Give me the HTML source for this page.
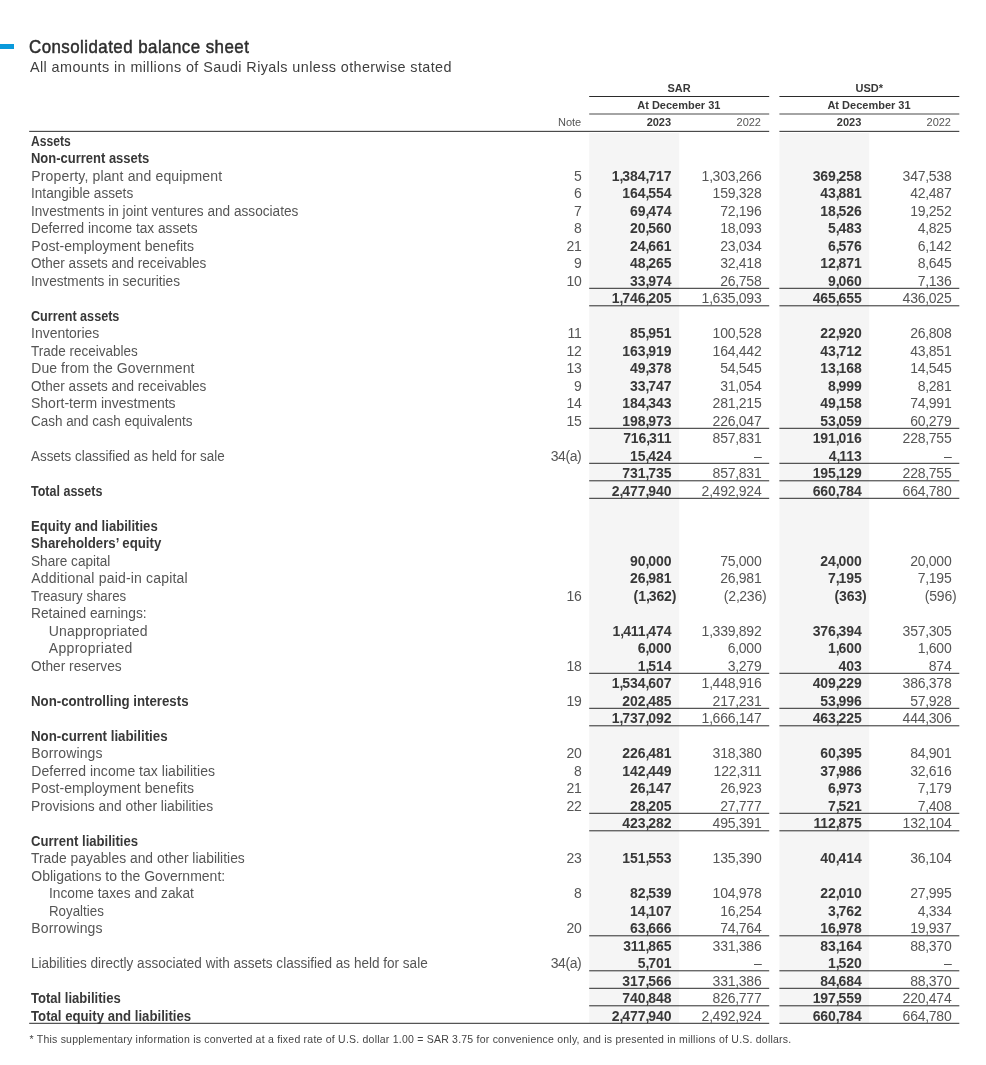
<!DOCTYPE html>
<html lang="en"><head><meta charset="utf-8"><title>Consolidated balance sheet</title>
<style>
html,body{margin:0;padding:0;background:#fff}
body{width:986px;height:1065px;position:relative;overflow:hidden;font-family:"Liberation Sans", Arial, sans-serif;color:#555}
.t{position:absolute;white-space:nowrap;line-height:normal}
.l{font-size:14px;color:#555}
.b{font-weight:700;color:#383838}
.n{font-size:14px;text-align:right}
.h{font-size:11px}
.n{letter-spacing:-0.2px}
.n.b{letter-spacing:-0.08px}
.n i{font-style:normal;letter-spacing:-0.5px}
.n.b i{letter-spacing:-1.1px}
svg{position:absolute;left:0;top:0}
</style></head><body>
<svg width="986" height="1065" viewBox="0 0 986 1065">
<rect x="589.2" y="133.0" width="90" height="890.3" fill="#f5f5f5"/>
<rect x="779.4" y="133.0" width="89.8" height="890.3" fill="#f5f5f5"/>
<line x1="589.2" x2="769.2" y1="96.50" y2="96.50" stroke="#2b2b2b" stroke-width="1"/>
<line x1="779.4" x2="959.3" y1="96.50" y2="96.50" stroke="#2b2b2b" stroke-width="1"/>
<line x1="589.2" x2="769.2" y1="114.00" y2="114.00" stroke="#868686" stroke-width="1.4"/>
<line x1="779.4" x2="959.3" y1="114.00" y2="114.00" stroke="#868686" stroke-width="1.4"/>
<line x1="29.2" x2="769.2" y1="131.35" y2="131.35" stroke="#2b2b2b" stroke-width="1"/>
<line x1="779.4" x2="959.3" y1="131.35" y2="131.35" stroke="#2b2b2b" stroke-width="1"/>
<line x1="589.2" x2="769.2" y1="288.30" y2="288.30" stroke="#2b2b2b" stroke-width="1"/>
<line x1="779.4" x2="959.3" y1="288.30" y2="288.30" stroke="#2b2b2b" stroke-width="1"/>
<line x1="589.2" x2="769.2" y1="305.80" y2="305.80" stroke="#2b2b2b" stroke-width="1"/>
<line x1="779.4" x2="959.3" y1="305.80" y2="305.80" stroke="#2b2b2b" stroke-width="1"/>
<line x1="589.2" x2="769.2" y1="428.30" y2="428.30" stroke="#2b2b2b" stroke-width="1"/>
<line x1="779.4" x2="959.3" y1="428.30" y2="428.30" stroke="#2b2b2b" stroke-width="1"/>
<line x1="589.2" x2="769.2" y1="463.30" y2="463.30" stroke="#2b2b2b" stroke-width="1"/>
<line x1="779.4" x2="959.3" y1="463.30" y2="463.30" stroke="#2b2b2b" stroke-width="1"/>
<line x1="589.2" x2="769.2" y1="480.80" y2="480.80" stroke="#2b2b2b" stroke-width="1"/>
<line x1="779.4" x2="959.3" y1="480.80" y2="480.80" stroke="#2b2b2b" stroke-width="1"/>
<line x1="589.2" x2="769.2" y1="498.30" y2="498.30" stroke="#2b2b2b" stroke-width="1"/>
<line x1="779.4" x2="959.3" y1="498.30" y2="498.30" stroke="#2b2b2b" stroke-width="1"/>
<line x1="589.2" x2="769.2" y1="673.30" y2="673.30" stroke="#2b2b2b" stroke-width="1"/>
<line x1="779.4" x2="959.3" y1="673.30" y2="673.30" stroke="#2b2b2b" stroke-width="1"/>
<line x1="589.2" x2="769.2" y1="708.30" y2="708.30" stroke="#2b2b2b" stroke-width="1"/>
<line x1="779.4" x2="959.3" y1="708.30" y2="708.30" stroke="#2b2b2b" stroke-width="1"/>
<line x1="589.2" x2="769.2" y1="725.80" y2="725.80" stroke="#2b2b2b" stroke-width="1"/>
<line x1="779.4" x2="959.3" y1="725.80" y2="725.80" stroke="#2b2b2b" stroke-width="1"/>
<line x1="589.2" x2="769.2" y1="813.30" y2="813.30" stroke="#2b2b2b" stroke-width="1"/>
<line x1="779.4" x2="959.3" y1="813.30" y2="813.30" stroke="#2b2b2b" stroke-width="1"/>
<line x1="589.2" x2="769.2" y1="830.80" y2="830.80" stroke="#2b2b2b" stroke-width="1"/>
<line x1="779.4" x2="959.3" y1="830.80" y2="830.80" stroke="#2b2b2b" stroke-width="1"/>
<line x1="589.2" x2="769.2" y1="935.80" y2="935.80" stroke="#2b2b2b" stroke-width="1"/>
<line x1="779.4" x2="959.3" y1="935.80" y2="935.80" stroke="#2b2b2b" stroke-width="1"/>
<line x1="589.2" x2="769.2" y1="970.80" y2="970.80" stroke="#2b2b2b" stroke-width="1"/>
<line x1="779.4" x2="959.3" y1="970.80" y2="970.80" stroke="#2b2b2b" stroke-width="1"/>
<line x1="589.2" x2="769.2" y1="988.30" y2="988.30" stroke="#2b2b2b" stroke-width="1"/>
<line x1="779.4" x2="959.3" y1="988.30" y2="988.30" stroke="#2b2b2b" stroke-width="1"/>
<line x1="589.2" x2="769.2" y1="1005.80" y2="1005.80" stroke="#2b2b2b" stroke-width="1"/>
<line x1="779.4" x2="959.3" y1="1005.80" y2="1005.80" stroke="#2b2b2b" stroke-width="1"/>
<line x1="29.2" x2="769.2" y1="1023.30" y2="1023.30" stroke="#2b2b2b" stroke-width="1"/>
<line x1="779.4" x2="959.3" y1="1023.30" y2="1023.30" stroke="#2b2b2b" stroke-width="1"/>
</svg>
<div id="txt" style="position:absolute;left:0;top:0;width:986px;height:1065px;will-change:transform">
<div style="position:absolute;left:0;top:44px;width:14px;height:5px;background:#0a9adb"></div>
<div class="t" id="title" style="left:29.4px;top:36px;font-size:19px;color:#2e2e2e;letter-spacing:0.5px;transform:scaleX(0.89);transform-origin:0 0;-webkit-text-stroke:0.5px #2e2e2e">Consolidated balance sheet</div>
<div class="t" id="sub" style="left:30px;top:59px;font-size:14.4px;color:#3e3e3e;letter-spacing:0.40px">All amounts in millions of Saudi Riyals unless otherwise stated</div>
<div class="t h b" style="left:579.1px;width:200px;text-align:center;top:82px;letter-spacing:0px">SAR</div>
<div class="t h b" style="left:769.3px;width:200px;text-align:center;top:82px;letter-spacing:0px">USD*</div>
<div class="t h b" style="left:578.8px;width:200px;text-align:center;top:99px;letter-spacing:0px">At December 31</div>
<div class="t h b" style="left:769.0px;width:200px;text-align:center;top:99px;letter-spacing:0px">At December 31</div>
<div class="t h" style="right:404.8px;top:116px;letter-spacing:0px">Note</div>
<div class="t h b" style="right:314.9px;top:116px;letter-spacing:0px">2023</div>
<div class="t h" style="right:225.0px;top:116px;letter-spacing:0px">2022</div>
<div class="t h b" style="right:124.7px;top:116px;letter-spacing:0px">2023</div>
<div class="t h" style="right:35.0px;top:116px;letter-spacing:0px">2022</div>
<div class="t l b" style="left:31.3px;top:133px;transform:scaleX(0.8645);transform-origin:0 0">Assets</div>
<div class="t l b" style="left:31.3px;top:150px;transform:scaleX(0.9272);transform-origin:0 0">Non-current assets</div>
<div class="t l" style="left:31.3px;top:168px;letter-spacing:0.152px">Property, plant and equipment</div>
<div class="t l n" style="right:404.7px;top:168px;letter-spacing:-0.4px">5</div>
<div class="t l n b" style="right:314.6px;top:168px">1<i>,</i>384<i>,</i>717</div>
<div class="t l n" style="right:224.5px;top:168px">1<i>,</i>303<i>,</i>266</div>
<div class="t l n b" style="right:124.3px;top:168px">369<i>,</i>258</div>
<div class="t l n" style="right:34.5px;top:168px">347<i>,</i>538</div>
<div class="t l" style="left:31.3px;top:185px;transform:scaleX(0.9726);transform-origin:0 0">Intangible assets</div>
<div class="t l n" style="right:404.7px;top:185px;letter-spacing:-0.4px">6</div>
<div class="t l n b" style="right:314.6px;top:185px">164<i>,</i>554</div>
<div class="t l n" style="right:224.5px;top:185px">159<i>,</i>328</div>
<div class="t l n b" style="right:124.3px;top:185px">43<i>,</i>881</div>
<div class="t l n" style="right:34.5px;top:185px">42<i>,</i>487</div>
<div class="t l" style="left:31.3px;top:203px;transform:scaleX(0.9731);transform-origin:0 0">Investments in joint ventures and associates</div>
<div class="t l n" style="right:404.7px;top:203px;letter-spacing:-0.4px">7</div>
<div class="t l n b" style="right:314.6px;top:203px">69<i>,</i>474</div>
<div class="t l n" style="right:224.5px;top:203px">72<i>,</i>196</div>
<div class="t l n b" style="right:124.3px;top:203px">18<i>,</i>526</div>
<div class="t l n" style="right:34.5px;top:203px">19<i>,</i>252</div>
<div class="t l" style="left:31.3px;top:220px;transform:scaleX(0.9771);transform-origin:0 0">Deferred income tax assets</div>
<div class="t l n" style="right:404.7px;top:220px;letter-spacing:-0.4px">8</div>
<div class="t l n b" style="right:314.6px;top:220px">20<i>,</i>560</div>
<div class="t l n" style="right:224.5px;top:220px">18<i>,</i>093</div>
<div class="t l n b" style="right:124.3px;top:220px">5<i>,</i>483</div>
<div class="t l n" style="right:34.5px;top:220px">4<i>,</i>825</div>
<div class="t l" style="left:31.3px;top:238px;letter-spacing:0.037px">Post-employment benefits</div>
<div class="t l n" style="right:404.7px;top:238px;letter-spacing:-0.4px">21</div>
<div class="t l n b" style="right:314.6px;top:238px">24<i>,</i>661</div>
<div class="t l n" style="right:224.5px;top:238px">23<i>,</i>034</div>
<div class="t l n b" style="right:124.3px;top:238px">6<i>,</i>576</div>
<div class="t l n" style="right:34.5px;top:238px">6<i>,</i>142</div>
<div class="t l" style="left:31.3px;top:255px;transform:scaleX(0.9668);transform-origin:0 0">Other assets and receivables</div>
<div class="t l n" style="right:404.7px;top:255px;letter-spacing:-0.4px">9</div>
<div class="t l n b" style="right:314.6px;top:255px">48<i>,</i>265</div>
<div class="t l n" style="right:224.5px;top:255px">32<i>,</i>418</div>
<div class="t l n b" style="right:124.3px;top:255px">12<i>,</i>871</div>
<div class="t l n" style="right:34.5px;top:255px">8<i>,</i>645</div>
<div class="t l" style="left:31.3px;top:273px;transform:scaleX(0.9720);transform-origin:0 0">Investments in securities</div>
<div class="t l n" style="right:404.7px;top:273px;letter-spacing:-0.4px">10</div>
<div class="t l n b" style="right:314.6px;top:273px">33<i>,</i>974</div>
<div class="t l n" style="right:224.5px;top:273px">26<i>,</i>758</div>
<div class="t l n b" style="right:124.3px;top:273px">9<i>,</i>060</div>
<div class="t l n" style="right:34.5px;top:273px">7<i>,</i>136</div>
<div class="t l n b" style="right:314.6px;top:290px">1<i>,</i>746<i>,</i>205</div>
<div class="t l n" style="right:224.5px;top:290px">1<i>,</i>635<i>,</i>093</div>
<div class="t l n b" style="right:124.3px;top:290px">465<i>,</i>655</div>
<div class="t l n" style="right:34.5px;top:290px">436<i>,</i>025</div>
<div class="t l b" style="left:31.3px;top:308px;transform:scaleX(0.9016);transform-origin:0 0">Current assets</div>
<div class="t l" style="left:31.3px;top:325px;transform:scaleX(0.9973);transform-origin:0 0">Inventories</div>
<div class="t l n" style="right:404.7px;top:325px;letter-spacing:-0.4px">11</div>
<div class="t l n b" style="right:314.6px;top:325px">85<i>,</i>951</div>
<div class="t l n" style="right:224.5px;top:325px">100<i>,</i>528</div>
<div class="t l n b" style="right:124.3px;top:325px">22<i>,</i>920</div>
<div class="t l n" style="right:34.5px;top:325px">26<i>,</i>808</div>
<div class="t l" style="left:31.3px;top:343px;transform:scaleX(0.9633);transform-origin:0 0">Trade receivables</div>
<div class="t l n" style="right:404.7px;top:343px;letter-spacing:-0.4px">12</div>
<div class="t l n b" style="right:314.6px;top:343px">163<i>,</i>919</div>
<div class="t l n" style="right:224.5px;top:343px">164<i>,</i>442</div>
<div class="t l n b" style="right:124.3px;top:343px">43<i>,</i>712</div>
<div class="t l n" style="right:34.5px;top:343px">43<i>,</i>851</div>
<div class="t l" style="left:31.3px;top:360px;letter-spacing:0.056px">Due from the Government</div>
<div class="t l n" style="right:404.7px;top:360px;letter-spacing:-0.4px">13</div>
<div class="t l n b" style="right:314.6px;top:360px">49<i>,</i>378</div>
<div class="t l n" style="right:224.5px;top:360px">54<i>,</i>545</div>
<div class="t l n b" style="right:124.3px;top:360px">13<i>,</i>168</div>
<div class="t l n" style="right:34.5px;top:360px">14<i>,</i>545</div>
<div class="t l" style="left:31.3px;top:378px;transform:scaleX(0.9668);transform-origin:0 0">Other assets and receivables</div>
<div class="t l n" style="right:404.7px;top:378px;letter-spacing:-0.4px">9</div>
<div class="t l n b" style="right:314.6px;top:378px">33<i>,</i>747</div>
<div class="t l n" style="right:224.5px;top:378px">31<i>,</i>054</div>
<div class="t l n b" style="right:124.3px;top:378px">8<i>,</i>999</div>
<div class="t l n" style="right:34.5px;top:378px">8<i>,</i>281</div>
<div class="t l" style="left:31.3px;top:395px;transform:scaleX(0.9992);transform-origin:0 0">Short-term investments</div>
<div class="t l n" style="right:404.7px;top:395px;letter-spacing:-0.4px">14</div>
<div class="t l n b" style="right:314.6px;top:395px">184<i>,</i>343</div>
<div class="t l n" style="right:224.5px;top:395px">281<i>,</i>215</div>
<div class="t l n b" style="right:124.3px;top:395px">49<i>,</i>158</div>
<div class="t l n" style="right:34.5px;top:395px">74<i>,</i>991</div>
<div class="t l" style="left:31.3px;top:413px;transform:scaleX(0.9607);transform-origin:0 0">Cash and cash equivalents</div>
<div class="t l n" style="right:404.7px;top:413px;letter-spacing:-0.4px">15</div>
<div class="t l n b" style="right:314.6px;top:413px">198<i>,</i>973</div>
<div class="t l n" style="right:224.5px;top:413px">226<i>,</i>047</div>
<div class="t l n b" style="right:124.3px;top:413px">53<i>,</i>059</div>
<div class="t l n" style="right:34.5px;top:413px">60<i>,</i>279</div>
<div class="t l n b" style="right:314.6px;top:430px">716<i>,</i>311</div>
<div class="t l n" style="right:224.5px;top:430px">857<i>,</i>831</div>
<div class="t l n b" style="right:124.3px;top:430px">191<i>,</i>016</div>
<div class="t l n" style="right:34.5px;top:430px">228<i>,</i>755</div>
<div class="t l" style="left:31.3px;top:448px;transform:scaleX(0.9574);transform-origin:0 0">Assets classified as held for sale</div>
<div class="t l n" style="right:404.7px;top:448px;letter-spacing:-0.4px">34(a)</div>
<div class="t l n b" style="right:314.6px;top:448px">15<i>,</i>424</div>
<div class="t l n" style="right:224.5px;top:448px">–</div>
<div class="t l n b" style="right:124.3px;top:448px">4<i>,</i>113</div>
<div class="t l n" style="right:34.5px;top:448px">–</div>
<div class="t l n b" style="right:314.6px;top:465px">731<i>,</i>735</div>
<div class="t l n" style="right:224.5px;top:465px">857<i>,</i>831</div>
<div class="t l n b" style="right:124.3px;top:465px">195<i>,</i>129</div>
<div class="t l n" style="right:34.5px;top:465px">228<i>,</i>755</div>
<div class="t l b" style="left:31.3px;top:483px;transform:scaleX(0.8937);transform-origin:0 0">Total assets</div>
<div class="t l n b" style="right:314.6px;top:483px">2<i>,</i>477<i>,</i>940</div>
<div class="t l n" style="right:224.5px;top:483px">2<i>,</i>492<i>,</i>924</div>
<div class="t l n b" style="right:124.3px;top:483px">660<i>,</i>784</div>
<div class="t l n" style="right:34.5px;top:483px">664<i>,</i>780</div>
<div class="t l b" style="left:31.3px;top:518px;transform:scaleX(0.9360);transform-origin:0 0">Equity and liabilities</div>
<div class="t l b" style="left:31.3px;top:535px;transform:scaleX(0.9461);transform-origin:0 0">Shareholders’ equity</div>
<div class="t l" style="left:31.3px;top:553px;transform:scaleX(0.9716);transform-origin:0 0">Share capital</div>
<div class="t l n b" style="right:314.6px;top:553px">90<i>,</i>000</div>
<div class="t l n" style="right:224.5px;top:553px">75<i>,</i>000</div>
<div class="t l n b" style="right:124.3px;top:553px">24<i>,</i>000</div>
<div class="t l n" style="right:34.5px;top:553px">20<i>,</i>000</div>
<div class="t l" style="left:31.3px;top:570px;letter-spacing:0.185px">Additional paid-in capital</div>
<div class="t l n b" style="right:314.6px;top:570px">26<i>,</i>981</div>
<div class="t l n" style="right:224.5px;top:570px">26<i>,</i>981</div>
<div class="t l n b" style="right:124.3px;top:570px">7<i>,</i>195</div>
<div class="t l n" style="right:34.5px;top:570px">7<i>,</i>195</div>
<div class="t l" style="left:31.3px;top:588px;transform:scaleX(0.9451);transform-origin:0 0">Treasury shares</div>
<div class="t l n" style="right:404.7px;top:588px;letter-spacing:-0.4px">16</div>
<div class="t l n b" style="right:309.6px;top:588px">(1<i>,</i>362)</div>
<div class="t l n" style="right:219.5px;top:588px">(2<i>,</i>236)</div>
<div class="t l n b" style="right:119.3px;top:588px">(363)</div>
<div class="t l n" style="right:29.5px;top:588px">(596)</div>
<div class="t l" style="left:31.3px;top:605px;transform:scaleX(0.9836);transform-origin:0 0">Retained earnings:</div>
<div class="t l" style="left:48.8px;top:623px;letter-spacing:0.176px">Unappropriated</div>
<div class="t l n b" style="right:314.6px;top:623px">1<i>,</i>411<i>,</i>474</div>
<div class="t l n" style="right:224.5px;top:623px">1<i>,</i>339<i>,</i>892</div>
<div class="t l n b" style="right:124.3px;top:623px">376<i>,</i>394</div>
<div class="t l n" style="right:34.5px;top:623px">357<i>,</i>305</div>
<div class="t l" style="left:48.8px;top:640px;letter-spacing:0.312px">Appropriated</div>
<div class="t l n b" style="right:314.6px;top:640px">6<i>,</i>000</div>
<div class="t l n" style="right:224.5px;top:640px">6<i>,</i>000</div>
<div class="t l n b" style="right:124.3px;top:640px">1<i>,</i>600</div>
<div class="t l n" style="right:34.5px;top:640px">1<i>,</i>600</div>
<div class="t l" style="left:31.3px;top:658px;transform:scaleX(0.9785);transform-origin:0 0">Other reserves</div>
<div class="t l n" style="right:404.7px;top:658px;letter-spacing:-0.4px">18</div>
<div class="t l n b" style="right:314.6px;top:658px">1<i>,</i>514</div>
<div class="t l n" style="right:224.5px;top:658px">3<i>,</i>279</div>
<div class="t l n b" style="right:124.3px;top:658px">403</div>
<div class="t l n" style="right:34.5px;top:658px">874</div>
<div class="t l n b" style="right:314.6px;top:675px">1<i>,</i>534<i>,</i>607</div>
<div class="t l n" style="right:224.5px;top:675px">1<i>,</i>448<i>,</i>916</div>
<div class="t l n b" style="right:124.3px;top:675px">409<i>,</i>229</div>
<div class="t l n" style="right:34.5px;top:675px">386<i>,</i>378</div>
<div class="t l b" style="left:31.3px;top:693px;transform:scaleX(0.9462);transform-origin:0 0">Non-controlling interests</div>
<div class="t l n" style="right:404.7px;top:693px;letter-spacing:-0.4px">19</div>
<div class="t l n b" style="right:314.6px;top:693px">202<i>,</i>485</div>
<div class="t l n" style="right:224.5px;top:693px">217<i>,</i>231</div>
<div class="t l n b" style="right:124.3px;top:693px">53<i>,</i>996</div>
<div class="t l n" style="right:34.5px;top:693px">57<i>,</i>928</div>
<div class="t l n b" style="right:314.6px;top:710px">1<i>,</i>737<i>,</i>092</div>
<div class="t l n" style="right:224.5px;top:710px">1<i>,</i>666<i>,</i>147</div>
<div class="t l n b" style="right:124.3px;top:710px">463<i>,</i>225</div>
<div class="t l n" style="right:34.5px;top:710px">444<i>,</i>306</div>
<div class="t l b" style="left:31.3px;top:728px;transform:scaleX(0.9491);transform-origin:0 0">Non-current liabilities</div>
<div class="t l" style="left:31.3px;top:745px;letter-spacing:0.130px">Borrowings</div>
<div class="t l n" style="right:404.7px;top:745px;letter-spacing:-0.4px">20</div>
<div class="t l n b" style="right:314.6px;top:745px">226<i>,</i>481</div>
<div class="t l n" style="right:224.5px;top:745px">318<i>,</i>380</div>
<div class="t l n b" style="right:124.3px;top:745px">60<i>,</i>395</div>
<div class="t l n" style="right:34.5px;top:745px">84<i>,</i>901</div>
<div class="t l" style="left:31.3px;top:763px;letter-spacing:0.028px">Deferred income tax liabilities</div>
<div class="t l n" style="right:404.7px;top:763px;letter-spacing:-0.4px">8</div>
<div class="t l n b" style="right:314.6px;top:763px">142<i>,</i>449</div>
<div class="t l n" style="right:224.5px;top:763px">122<i>,</i>311</div>
<div class="t l n b" style="right:124.3px;top:763px">37<i>,</i>986</div>
<div class="t l n" style="right:34.5px;top:763px">32<i>,</i>616</div>
<div class="t l" style="left:31.3px;top:780px;letter-spacing:0.037px">Post-employment benefits</div>
<div class="t l n" style="right:404.7px;top:780px;letter-spacing:-0.4px">21</div>
<div class="t l n b" style="right:314.6px;top:780px">26<i>,</i>147</div>
<div class="t l n" style="right:224.5px;top:780px">26<i>,</i>923</div>
<div class="t l n b" style="right:124.3px;top:780px">6<i>,</i>973</div>
<div class="t l n" style="right:34.5px;top:780px">7<i>,</i>179</div>
<div class="t l" style="left:31.3px;top:798px;transform:scaleX(0.9873);transform-origin:0 0">Provisions and other liabilities</div>
<div class="t l n" style="right:404.7px;top:798px;letter-spacing:-0.4px">22</div>
<div class="t l n b" style="right:314.6px;top:798px">28<i>,</i>205</div>
<div class="t l n" style="right:224.5px;top:798px">27<i>,</i>777</div>
<div class="t l n b" style="right:124.3px;top:798px">7<i>,</i>521</div>
<div class="t l n" style="right:34.5px;top:798px">7<i>,</i>408</div>
<div class="t l n b" style="right:314.6px;top:815px">423<i>,</i>282</div>
<div class="t l n" style="right:224.5px;top:815px">495<i>,</i>391</div>
<div class="t l n b" style="right:124.3px;top:815px">112<i>,</i>875</div>
<div class="t l n" style="right:34.5px;top:815px">132<i>,</i>104</div>
<div class="t l b" style="left:31.3px;top:833px;transform:scaleX(0.9365);transform-origin:0 0">Current liabilities</div>
<div class="t l" style="left:31.3px;top:850px;transform:scaleX(0.9905);transform-origin:0 0">Trade payables and other liabilities</div>
<div class="t l n" style="right:404.7px;top:850px;letter-spacing:-0.4px">23</div>
<div class="t l n b" style="right:314.6px;top:850px">151<i>,</i>553</div>
<div class="t l n" style="right:224.5px;top:850px">135<i>,</i>390</div>
<div class="t l n b" style="right:124.3px;top:850px">40<i>,</i>414</div>
<div class="t l n" style="right:34.5px;top:850px">36<i>,</i>104</div>
<div class="t l" style="left:31.3px;top:868px;letter-spacing:0.004px">Obligations to the Government:</div>
<div class="t l" style="left:48.8px;top:885px;transform:scaleX(0.9799);transform-origin:0 0">Income taxes and zakat</div>
<div class="t l n" style="right:404.7px;top:885px;letter-spacing:-0.4px">8</div>
<div class="t l n b" style="right:314.6px;top:885px">82<i>,</i>539</div>
<div class="t l n" style="right:224.5px;top:885px">104<i>,</i>978</div>
<div class="t l n b" style="right:124.3px;top:885px">22<i>,</i>010</div>
<div class="t l n" style="right:34.5px;top:885px">27<i>,</i>995</div>
<div class="t l" style="left:48.8px;top:903px;transform:scaleX(0.9515);transform-origin:0 0">Royalties</div>
<div class="t l n b" style="right:314.6px;top:903px">14<i>,</i>107</div>
<div class="t l n" style="right:224.5px;top:903px">16<i>,</i>254</div>
<div class="t l n b" style="right:124.3px;top:903px">3<i>,</i>762</div>
<div class="t l n" style="right:34.5px;top:903px">4<i>,</i>334</div>
<div class="t l" style="left:31.3px;top:920px;letter-spacing:0.130px">Borrowings</div>
<div class="t l n" style="right:404.7px;top:920px;letter-spacing:-0.4px">20</div>
<div class="t l n b" style="right:314.6px;top:920px">63<i>,</i>666</div>
<div class="t l n" style="right:224.5px;top:920px">74<i>,</i>764</div>
<div class="t l n b" style="right:124.3px;top:920px">16<i>,</i>978</div>
<div class="t l n" style="right:34.5px;top:920px">19<i>,</i>937</div>
<div class="t l n b" style="right:314.6px;top:938px">311<i>,</i>865</div>
<div class="t l n" style="right:224.5px;top:938px">331<i>,</i>386</div>
<div class="t l n b" style="right:124.3px;top:938px">83<i>,</i>164</div>
<div class="t l n" style="right:34.5px;top:938px">88<i>,</i>370</div>
<div class="t l" style="left:31.3px;top:955px;transform:scaleX(0.9673);transform-origin:0 0">Liabilities directly associated with assets classified as held for sale</div>
<div class="t l n" style="right:404.7px;top:955px;letter-spacing:-0.4px">34(a)</div>
<div class="t l n b" style="right:314.6px;top:955px">5<i>,</i>701</div>
<div class="t l n" style="right:224.5px;top:955px">–</div>
<div class="t l n b" style="right:124.3px;top:955px">1<i>,</i>520</div>
<div class="t l n" style="right:34.5px;top:955px">–</div>
<div class="t l n b" style="right:314.6px;top:973px">317<i>,</i>566</div>
<div class="t l n" style="right:224.5px;top:973px">331<i>,</i>386</div>
<div class="t l n b" style="right:124.3px;top:973px">84<i>,</i>684</div>
<div class="t l n" style="right:34.5px;top:973px">88<i>,</i>370</div>
<div class="t l b" style="left:31.3px;top:990px;transform:scaleX(0.9324);transform-origin:0 0">Total liabilities</div>
<div class="t l n b" style="right:314.6px;top:990px">740<i>,</i>848</div>
<div class="t l n" style="right:224.5px;top:990px">826<i>,</i>777</div>
<div class="t l n b" style="right:124.3px;top:990px">197<i>,</i>559</div>
<div class="t l n" style="right:34.5px;top:990px">220<i>,</i>474</div>
<div class="t l b" style="left:31.3px;top:1008px;transform:scaleX(0.9417);transform-origin:0 0">Total equity and liabilities</div>
<div class="t l n b" style="right:314.6px;top:1008px">2<i>,</i>477<i>,</i>940</div>
<div class="t l n" style="right:224.5px;top:1008px">2<i>,</i>492<i>,</i>924</div>
<div class="t l n b" style="right:124.3px;top:1008px">660<i>,</i>784</div>
<div class="t l n" style="right:34.5px;top:1008px">664<i>,</i>780</div>
<div class="t" id="foot" style="left:29.5px;top:1033px;font-size:10.5px;color:#444;letter-spacing:0.225px">* This supplementary information is converted at a fixed rate of U.S. dollar 1.00 = SAR 3.75 for convenience only, and is presented in millions of U.S. dollars.</div>
</div>
</body></html>
